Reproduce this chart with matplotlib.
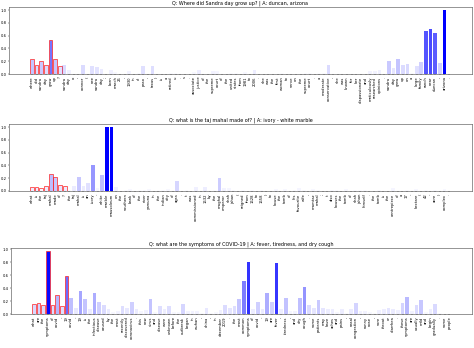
import matplotlib
matplotlib.use("Agg")
import matplotlib.pyplot as plt

# ---------------- data ----------------
title1 = "Q: Where did Sandra day grow up? | A: duncan, arizona"
n_question1 = 7
tokens1 = ["where", "did", "sandra", "day", "grow", "up", "?",
           "sandra", "day", "o", "'", "connor", "(", "nee", "sandra", "day", ";",
           "born", "march", "26", ",", "1930", "in", "el", "paso", ",", "texas", ")",
           "is", "a", "retired", "u", ".", "s", ".",
           "associate", "justice", "of", "the", "supreme", "court", "of", "the",
           "united", "states", "from", "1981", "to", "2006", ".",
           "she", "was", "the", "first", "woman", "to", "serve", "on", "the",
           "supreme", "court", ".", "a", "moderate", "conservative", ",", "she",
           "was", "known", "for", "her", "dispassionate", "and", "meticulously",
           "researched", "opinions", ".", "sandra", "day", "grew", "up", "on", "a",
           "large", "family", "ranch", "near", "duncan", ",", "arizona", "."]
values1 = [0.23, 0.14, 0.21, 0.14, 0.54, 0.23, 0.12,
           0.14, 0.06, 0.0, 0.0, 0.14, 0.0, 0.12, 0.11, 0.08, 0.0,
           0.06, 0.03, 0.0, 0.0, 0.05, 0.0, 0.02, 0.12, 0.0, 0.13, 0.0,
           0.0, 0.0, 0.02, 0.02, 0.0, 0.0, 0.0,
           0.03, 0.07, 0.0, 0.0, 0.05, 0.04, 0.0, 0.0,
           0.02, 0.02, 0.0, 0.03, 0.0, 0.07, 0.0,
           0.0, 0.0, 0.0, 0.0, 0.01, 0.0, 0.0, 0.0, 0.0,
           0.02, 0.02, 0.0, 0.01, 0.02, 0.14, 0.0, 0.0,
           0.0, 0.0, 0.0, 0.0, 0.0, 0.0, 0.05,
           0.05, 0.06, 0.0, 0.21, 0.10, 0.23, 0.14, 0.15, 0.02,
           0.12, 0.19, 0.67, 0.71, 0.64, 0.18, 1.0, 0.0]

title2 = "Q: what is the taj mahal made of? | A: ivory - white marble"
n_question2 = 8
tokens2 = ["what", "is", "the", "taj", "mahal", "made", "of", "?",
           "the", "taj", "mahal", "is", "an", "ivory", "-", "white", "marble", "mausoleum",
           "on", "the", "southern", "bank", "of", "the", "river", "yamuna", "in", "the",
           "indian", "city", "of", "agra", ".",
           "it", "was", "commissioned", "in", "1632", "by", "the", "mughal", "emperor",
           "shah", "jahan", "(", "reigned", "from", "1628", "to", "1658", ")",
           "to", "house", "the", "tomb", "of", "his", "favourite", "wife", ",", "mumtaz",
           "mahal", ";",
           "it", "also", "houses", "the", "tomb", "of", "shah", "jahan", "himself", ".",
           "the", "tomb", "is", "the", "centrepiece", "of", "a", "17", "-", "hectare",
           "(", "42", "-", "acre", ")", "complex", "."]
values2 = [0.07, 0.07, 0.04, 0.08, 0.26, 0.22, 0.10, 0.08,
           0.02, 0.08, 0.22, 0.08, 0.12, 0.41, 0.04, 0.25, 1.0, 1.0,
           0.06, 0.0, 0.02, 0.03, 0.0, 0.01, 0.02, 0.03, 0.0, 0.01,
           0.02, 0.03, 0.01, 0.16, 0.0,
           0.02, 0.0, 0.06, 0.0, 0.07, 0.0, 0.01, 0.20, 0.05,
           0.04, 0.02, 0.0, 0.02, 0.0, 0.02, 0.0, 0.02, 0.0,
           0.0, 0.03, 0.0, 0.03, 0.0, 0.02, 0.04, 0.02, 0.0, 0.03,
           0.02, 0.0,
           0.0, 0.02, 0.02, 0.0, 0.03, 0.0, 0.02, 0.02, 0.02, 0.0,
           0.0, 0.02, 0.0, 0.0, 0.04, 0.0, 0.0, 0.02, 0.0, 0.03,
           0.0, 0.02, 0.0, 0.02, 0.0, 0.03, 0.0]

title3 = "Q: what are the symptoms of COVID-19 | A: fever, tiredness, and dry cough"
n_question3 = 8
tokens3 = ["what", "are", "the", "symptoms", "of", "covid", "-", "19",
           "covid", "-", "19", "is", "the", "infectious", "disease", "caused", "by",
           "the", "most", "recently", "discovered", "coronavirus", ".", "this", "new",
           "virus", "and", "disease", "were", "unknown", "before", "the", "outbreak",
           "began", "in", "wuhan", ",", "china", ",", "in", "december", "2019", ".",
           "the", "most", "common", "symptoms", "of", "covid", "-", "19", "are",
           "fever", ",", "tiredness", ",", "and", "dry", "cough", ".", "some",
           "patients", "may", "have", "aches", "and", "pains", ",", "nasal",
           "congestion", ",", "runny", "nose", ",", "sore", "throat", "or", "diarrhea",
           ".", "these", "symptoms", "are", "usually", "mild", "and", "begin",
           "gradually", ".", "some", "people"]
values3 = [0.15, 0.17, 0.14, 0.97, 0.14, 0.29, 0.13, 0.58,
           0.25, 0.09, 0.35, 0.23, 0.08, 0.32, 0.19, 0.14, 0.08,
           0.03, 0.05, 0.13, 0.09, 0.19, 0.08, 0.04, 0.06,
           0.23, 0.03, 0.13, 0.07, 0.13, 0.03, 0.03, 0.16,
           0.05, 0.05, 0.05, 0.02, 0.09, 0.02, 0.03, 0.06, 0.14, 0.10,
           0.13, 0.23, 0.51, 0.80, 0.07, 0.19, 0.08, 0.32, 0.18,
           0.79, 0.07, 0.24, 0.04, 0.05, 0.25, 0.42, 0.14, 0.10,
           0.21, 0.10, 0.07, 0.07, 0.03, 0.07, 0.02, 0.08,
           0.17, 0.05, 0.05, 0.03, 0.02, 0.06, 0.07, 0.10, 0.08,
           0.06, 0.17, 0.27, 0.05, 0.14, 0.22, 0.03, 0.07,
           0.15, 0.02, 0.0, 0.0]

panels = [(title1, tokens1, values1, n_question1),
          (title2, tokens2, values2, n_question2),
          (title3, tokens3, values3, n_question3)]

# ---------------- layout (pixels) ----------------
W, H = 474, 348
boxes = [(9, 7, 472, 74), (9, 124, 472, 191), (11, 248, 472, 314)]

fig = plt.figure(figsize=(W / 100, H / 100), dpi=100)
for (title, toks, vals, nq), (l, t, r, b) in zip(panels, boxes):
    ax = fig.add_axes([l / W, (H - b) / H, (r - l) / W, (b - t) / H])
    x = list(range(len(toks)))
    faces = [(0.0, 0.0, 1.0, min(1.0, max(0.0, v))) for v in vals]
    edges = [(1.0, 0.15, 0.15, 0.85) if i < nq else (0, 0, 0, 0) for i in x]
    ax.bar(x, vals, width=0.8, color=faces, edgecolor=edges, linewidth=0.6)
    ax.set_xticks(x)
    ax.set_xticklabels(toks, rotation=90, fontsize=2.7)
    ax.set_yticks([0.0, 0.2, 0.4, 0.6, 0.8, 1.0])
    ax.tick_params(axis="both", labelsize=2.7, length=1.0, width=0.3, pad=0.8)
    ax.set_title(title, fontsize=3.5, pad=2)
    for s in ax.spines.values():
        s.set_linewidth(0.4)
        s.set_color("#444444")

fig.savefig("out.png", dpi=100)
